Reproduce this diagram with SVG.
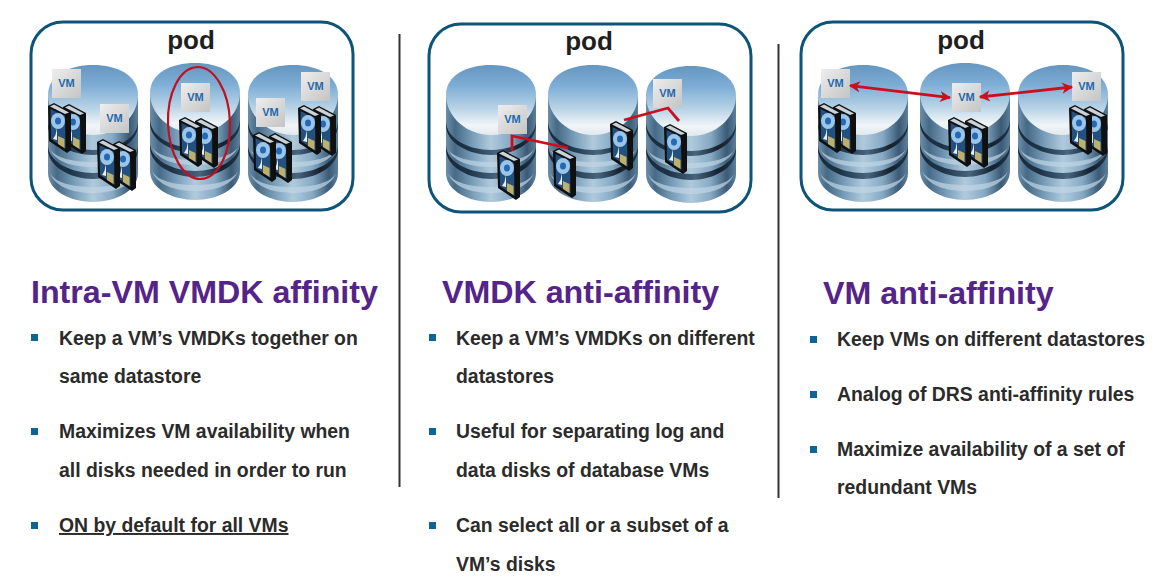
<svg xmlns="http://www.w3.org/2000/svg" width="1159" height="583" viewBox="0 0 1159 583">
<style>
text{font-family:"Liberation Sans",Arial,sans-serif;font-weight:bold}
.pod{fill:#fff;stroke:#0c5478;stroke-width:3}
.pt{font-size:26px;fill:#1f1f1f;text-anchor:middle}
.h{font-size:32.200px;fill:#54248a}
.b{font-size:19.400px;fill:#2b2b2b}
.sq{fill:#0f6496}
.div{stroke:#333;stroke-width:2}
.red{fill:none;stroke:#cc0f1f;stroke-width:2.800}
.oval{fill:none;stroke:#bf1120;stroke-width:2.200}
.vt{font-size:11px;fill:#1f69ac;text-anchor:middle}
</style>
<defs>
<filter id="soft" x="-5%" y="-5%" width="110%" height="110%"><feGaussianBlur stdDeviation="0.7"/></filter>
<linearGradient id="side" x1="0" x2="1" y1="0" y2="0">
<stop offset="0" stop-color="#6d8ea8"/><stop offset=".1" stop-color="#466a86"/><stop offset=".3" stop-color="#7a9fbb"/><stop offset=".5" stop-color="#b0cadc"/><stop offset=".72" stop-color="#86a9c4"/><stop offset=".9" stop-color="#3a5a75"/><stop offset="1" stop-color="#5d7f9a"/>
</linearGradient>
<linearGradient id="gap" x1="0" x2="1" y1="0" y2="0">
<stop offset="0" stop-color="#1a2a3a"/><stop offset=".25" stop-color="#1e3347"/><stop offset=".55" stop-color="#47657e"/><stop offset=".8" stop-color="#14222f"/><stop offset="1" stop-color="#20354a"/>
</linearGradient>
<linearGradient id="top" x1="0" x2="0" y1="0" y2="1">
<stop offset="0" stop-color="#6596bf"/><stop offset=".3" stop-color="#7eaed6"/><stop offset=".62" stop-color="#b8d3e6"/><stop offset=".86" stop-color="#f0f5f8"/><stop offset="1" stop-color="#e2e8ec"/>
</linearGradient>
<linearGradient id="vmf" x1="0" x2="1" y1="0" y2="1">
<stop offset="0" stop-color="#eeeeee"/><stop offset="1" stop-color="#c4c4c4"/>
</linearGradient>
<symbol id="cyl" width="92" height="138" viewBox="0 0 92 138" overflow="visible">
<g filter="url(#soft)">
<path d="M1,78V108C1,126 24,137 46,137S91,126 91,108V78Z" fill="url(#side)"/>
<path d="M3,108C8,122 26,128 46,128S84,122 89,108C84,118 66,122 46,122S8,118 3,108Z" fill="#c0d6e5" opacity=".7"/>
<path d="M1,56V84C1,102 24,114 46,114S91,102 91,84V56Z" fill="url(#gap)"/>
<path d="M1,54V80C1,97 24,108 46,108S91,97 91,80V54Z" fill="url(#side)"/>
<path d="M3,84C8,97 26,102 46,102S84,97 89,84C84,93 66,97 46,97S8,93 3,84Z" fill="#c0d6e5" opacity=".7"/>
<path d="M1,32V60C1,78 24,90 46,90S91,78 91,60V32Z" fill="url(#gap)"/>
<path d="M1,32V56C1,74 24,85 46,85S91,74 91,56V32Z" fill="url(#side)"/>
<path d="M1,30C1,10 22,0 46,0S91,10 91,30C91,52 70,70 46,70S1,52 1,30Z" fill="url(#top)"/>
</g>
</symbol>
<symbol id="vm" width="29" height="29" viewBox="0 0 29 29">
<rect width="29" height="29" fill="url(#vmf)"/>
<text class="vt" x="14.500" y="18">VM</text>
</symbol>
<symbol id="disk" width="24" height="50" viewBox="0 0 24 50">
<path d="M0,3L6,0L23,9V47L19,50L1,38Z" fill="#101010"/>
<path d="M2,3.500L6,1.500L21,9.500L17,11Z" fill="#c9d2d8"/>
<path d="M2.500,6L17,13L17.500,46L3,36Z" fill="#24507f"/>
<ellipse cx="10" cy="18" rx="7" ry="8" fill="#9cc5ea"/>
<ellipse cx="10" cy="18" rx="3" ry="3.600" fill="#2469b4"/>
<path d="M9,25L7.500,32L5,36L9,37Z" fill="#e8eef2"/>
<path d="M10,33L16.500,36V45L10,41Z" fill="#bdb06c"/>
</symbol>
<marker id="ah" viewBox="0 0 10 10" refX="9" refY="5" markerWidth="4" markerHeight="4" orient="auto-start-reverse"><path d="M0,0L10,5L0,10L3,5Z" fill="#cc0f1f"/></marker>
</defs>

<g id="pod-1">
<rect class="pod" x="31" y="22" width="322" height="188" rx="32"/>
<text class="pt" x="191" y="49">pod</text>
<use href="#cyl" x="47" y="65"/><use href="#cyl" x="149" y="63"/><use href="#cyl" x="247" y="65"/>
<use href="#vm" x="52" y="69"/><use href="#vm" x="100" y="104"/><use href="#vm" x="181" y="83"/><use href="#vm" x="256" y="98"/><use href="#vm" x="301" y="72"/>
<use href="#disk" x="63" y="104"/><use href="#disk" x="48" y="103"/>
<use href="#disk" x="113" y="141"/><use href="#disk" x="97" y="139"/>
<use href="#disk" x="195" y="118"/><use href="#disk" x="179" y="117"/>
<use href="#disk" x="269" y="133"/><use href="#disk" x="253" y="132"/>
<use href="#disk" x="313" y="106"/><use href="#disk" x="298" y="105"/>
<ellipse class="oval" cx="199" cy="123" rx="31" ry="56" transform="rotate(-2 199 123)"/>
</g>
<g id="pod-2">
<rect class="pod" x="429" y="24" width="322" height="188" rx="32"/>
<text class="pt" x="589" y="50">pod</text>
<use href="#cyl" x="445" y="65"/><use href="#cyl" x="547" y="65"/><use href="#cyl" x="645" y="66"/>
<use href="#vm" x="498" y="105"/><use href="#vm" x="653" y="79"/>
<use href="#disk" x="497" y="150"/><use href="#disk" x="553" y="148"/><use href="#disk" x="610" y="121"/><use href="#disk" x="664" y="124"/>
</g>
<g id="pod-3">
<rect class="pod" x="801" y="22" width="322" height="188" rx="32"/>
<text class="pt" x="961" y="49">pod</text>
<use href="#cyl" x="817" y="65"/><use href="#cyl" x="919" y="63"/><use href="#cyl" x="1017" y="65"/>
<use href="#vm" x="821" y="69"/><use href="#vm" x="952" y="83"/><use href="#vm" x="1072" y="72"/>
<use href="#disk" x="833" y="104"/><use href="#disk" x="818" y="103"/>
<use href="#disk" x="965" y="118"/><use href="#disk" x="948" y="117"/>
<use href="#disk" x="1084" y="106"/><use href="#disk" x="1069" y="105"/>
</g>
<g id="connectors">
<path class="red" d="M512,151V136L568,148"/>
<path class="red" d="M624,120L668,108L679,121"/>
<path class="red" d="M850,85.700L950,97.700" marker-start="url(#ah)" marker-end="url(#ah)"/>
<path class="red" d="M980,97L1072,87" marker-start="url(#ah)" marker-end="url(#ah)"/>
<path class="div" d="M399.500,34V487"/>
<path class="div" d="M778.500,44V498"/>
</g>
<g id="text-1">
<text class="h" x="31" y="303">Intra-VM VMDK affinity</text>
<rect class="sq" x="31" y="334" width="7" height="7"/><text class="b" x="59" y="345">Keep a VM’s VMDKs together on</text>
<text class="b" x="59" y="383">same datastore</text>
<rect class="sq" x="31" y="428" width="7" height="7"/><text class="b" x="59" y="438">Maximizes VM availability when</text>
<text class="b" x="59" y="477">all disks needed in order to run</text>
<rect class="sq" x="31" y="522" width="7" height="7"/><text class="b" x="59" y="532" text-decoration="underline">ON by default for all VMs</text>
</g>
<g id="text-2">
<text class="h" x="442" y="303">VMDK anti-affinity</text>
<rect class="sq" x="429" y="334" width="7" height="7"/><text class="b" x="456" y="345">Keep a VM’s VMDKs on different</text>
<text class="b" x="456" y="383">datastores</text>
<rect class="sq" x="429" y="428" width="7" height="7"/><text class="b" x="456" y="438">Useful for separating log and</text>
<text class="b" x="456" y="477">data disks of database VMs</text>
<rect class="sq" x="429" y="522" width="7" height="7"/><text class="b" x="456" y="532">Can select all or a subset of a</text>
<text class="b" x="456" y="571">VM’s disks</text>
</g>
<g id="text-3">
<text class="h" x="823" y="304">VM anti-affinity</text>
<rect class="sq" x="810" y="336" width="7" height="7"/><text class="b" x="837" y="346">Keep VMs on different datastores</text>
<rect class="sq" x="810" y="391" width="7" height="7"/><text class="b" x="837" y="401">Analog of DRS anti-affinity rules</text>
<rect class="sq" x="810" y="446" width="7" height="7"/><text class="b" x="837" y="456">Maximize availability of a set of</text>
<text class="b" x="837" y="494">redundant VMs</text>
</g>
</svg>
